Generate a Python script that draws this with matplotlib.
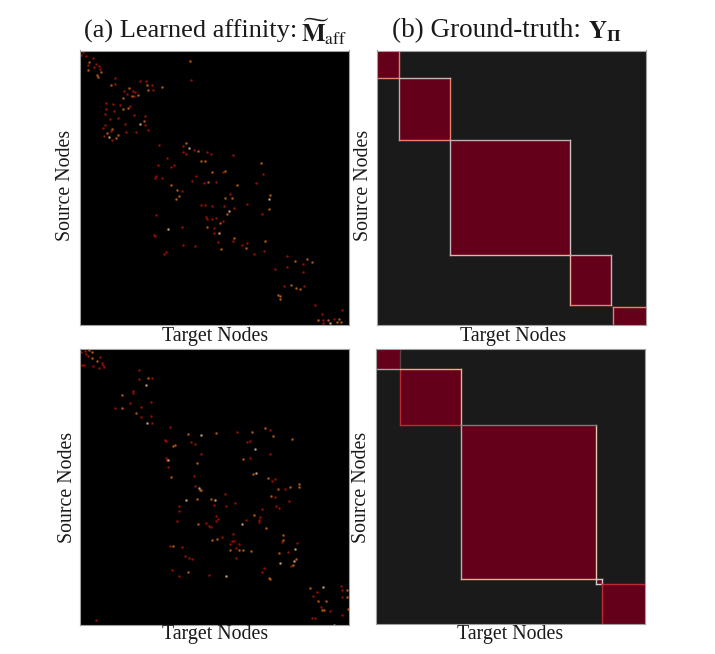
import numpy as np
import matplotlib
matplotlib.use('Agg')
import matplotlib.pyplot as plt
from matplotlib.patches import Rectangle

plt.rcParams['font.family'] = ['Liberation Serif', 'DejaVu Serif']
plt.rcParams['mathtext.fontset'] = 'stix'

# affinity peaks: (target, source, level)  level 0 red, 1 orange, 2 pale
top_upper = [(33,137,0),(40,128,0),(47,140,0),(68,144,0),(57,158,1),(77,162,0),(54,167,0),(72,173,0),(88,170,0),(91,177,0),
 (92,186,1),(53,182,1),(81,197,1),(85,201,1),(136,206,0),(136,222,0),(124,226,1),(209,213,0),(228,213,0),(232,226,1),
 (247,226,0),(275,231,1),(233,240,1),(248,240,0),(178,236,1),(161,243,0),(188,244,0),(195,247,0),(170,252,0),(205,255,1),
 (185,260,1),(192,260,0),(158,265,1),(108,279,0),(130,282,0),(151,286,0),(181,290,0),(173,294,1),(159,297,1),(108,298,0),
 (133,303,0),(105,312,0),(192,317,0),(226,320,0),(119,327,0),(143,324,0),(222,333,1),(209,342,2),(164,342,0),(226,347,0),
 (104,347,0),(99,355,0),(127,358,1),(124,363,0),(233,362,0),(167,367,0),(198,367,0),(112,371,1),(143,376,1),(102,380,0),
 (116,381,2),(138,385,1),(127,390,0),(267,405,0),(347,401,1),(340,409,0),(356,414,2),(371,420,0),(384,424,1),(411,428,0),
 (423,433,0),(338,428,0),(349,433,0),(490,436,0),(291,444,0),(392,453,1),(406,453,1),(264,467,0),(303,471,0),(312,467,0),
 (575,460,1),(426,487,1),(466,483,1),(460,487,0),(581,492,0),(360,153,1),(364,210,0)]
top_lower = [(258,20,0),(254,25,0),(275,25,0),(377,20,0),(367,33,0),(402,41,0),(415,37,1),(438,37,0),(302,46,1),(500,46,1),
 (559,41,0),(322,60,1),(337,64,0),(326,79,1),(318,89,1),(602,75,1),(481,72,0),(466,85,1),(485,85,1),(597,89,2),
 (392,106,0),(405,106,0),(426,110,0),(461,110,0),(491,114,0),(532,102,0),(598,118,1),(477,123,2),(472,134,1),(578,132,0),
 (257,137,0),(408,142,0),(410,149,0),(426,148,0),(439,144,0),(458,153,0),(450,161,1),(411,171,1),(337,171,0),(433,175,0),
 (295,177,2),(433,189,0),(446,189,2),(251,196,0),(256,201,0),(491,205,1),(488,215,0),(587,215,1),(443,218,0),(340,226,0),
 (374,230,0),(517,226,0),(532,222,0),(528,235,1),(454,239,1),(584,244,0),(552,253,0),(287,249,0),(282,253,0),(652,260,0),
 (676,275,1),(711,268,1),(726,278,1),(701,283,0),(653,292,0),(615,298,0),(701,308,0),(643,351,0),(663,346,1),(680,355,1),
 (691,360,1),(704,351,0),(625,376,1),(632,380,1),(632,389,1),(735,408,0),(818,423,0),(756,433,0),(746,452,1),(760,452,0),
 (776,452,1),(794,449,0),(807,449,1),(801,457,1),(815,457,1),(760,462,0),(780,462,2)]
bottom_upper = [(33,36,0),(45,32,0),(57,30,1),(65,36,1),(48,42,0),(53,47,0),(90,52,0),(66,55,1),(81,63,1),(95,70,0),
 (98,74,0),(35,76,0),(41,76,0),(69,78,0),(87,85,0),(101,82,0),(208,89,0),(208,116,0),(233,113,1),(247,113,0),
 (228,135,2),(189,153,0),(189,158,0),(155,165,1),(179,189,0),(243,186,0),(136,205,0),(155,205,1),(214,202,0),(197,219,1),
 (214,232,0),(244,229,0),(232,248,2),(247,248,0),(299,260,0),(353,282,1),(392,285,2),(438,278,1),(501,275,0),(547,275,1),
 (586,263,1),(602,269,0),(609,289,1),(668,296,1),(286,300,0),(289,302,0),(530,306,0),(540,302,0),(364,306,0),(374,312,0),
 (310,318,1),(314,315,1),(555,326,2),(602,340,0),(392,342,0),(289,352,0),(291,358,0),(295,359,2),(520,355,1),(540,352,0),
 (381,369,1),(293,380,0),(548,402,1),(558,398,2),(303,410,1),(371,407,0),(594,413,1),(615,416,0),(608,422,0),(687,432,1),
 (687,439,1),(660,439,1),(647,446,0),(625,447,1),(374,436,0),(388,443,2),(392,448,1)]
bottom_lower = [(391,0,1),(465,12,0),(605,18,1),(615,21,0),(349,30,2),(380,26,1),(422,26,1),(435,30,2),(657,33,0),(328,46,0),
 (431,43,0),(469,46,0),(494,37,0),(620,48,0),(629,52,0),(578,55,0),(326,62,0),(551,73,1),(438,76,0),(570,80,0),
 (322,92,0),(445,86,0),(438,92,0),(527,89,0),(566,89,0),(566,95,0),(384,102,1),(407,99,0),(416,106,0),(423,110,0),
 (516,102,2),(590,114,1),(488,132,0),(640,135,1),(455,139,0),(442,146,1),(427,150,1),(640,150,1),(636,156,0),(683,159,0),
 (485,153,0),(491,153,0),(481,162,0),(508,162,0),(299,166,0),(310,166,1),(335,169,0),(498,172,0),(481,179,1),(508,179,1),
 (520,179,1),(544,183,1),(675,176,2),(629,189,1),(655,186,0),(345,196,0),(356,202,0),(367,205,0),(498,202,0),(678,205,1),
 (673,212,2),(632,219,2),(671,223,1),(664,226,0),(583,233,0),(576,246,0),(306,239,0),(353,246,1),(328,256,0),(416,253,0),
 (469,256,2),(598,264,1),(601,266,1),(722,293,1),(761,289,2),(814,286,0),(817,300,0),(831,300,1),(741,306,0),(729,316,0),
 (817,319,0),(832,319,1),(746,333,1),(768,331,1),(753,350,0),(757,359,1),(764,359,1),(781,362,0),(836,355,1),(817,373,0),
 (726,383,0),(736,383,0),(77,389,0),(792,403,2)]

# ground truth blocks, node ranges on target and source axes
gt_top_x = [(65,133),(133,285),(285,645),(645,767),(773,873)]
gt_top_y = [(122,204),(204,390),(390,735),(735,885),(890,945)]
gt_top_edges = [('#65001a','#e8806a','#e8806a','#65001a'),('#b8b0b0','#e8806a','#e8806a','#c0b8b8'),
 ('#c0b8b8','#e8b0a0','#c8c0c0','#b8b0b0'),('#e8b0a0','#e8806a','#c0b8b8','#b8b0b0'),('#e8806a','#65001a','#65001a','#e8806a')]
gt_bot_x = [(62,136),(136,317),(317,724),(724,742),(742,870)]
gt_bot_y = [(27,86),(86,256),(256,716),(716,733),(733,852)]
gt_bot_edges = [('#65001a','#a8a0a0','#5a4040','#65001a'),('#c02838','#c02838','#e8b090','#e8b090'),
 ('#b8b0b0','#e8b090','#e8c8b0','#807878'),('#d0c8c8','#d0c8c8','#d0c8c8','#d0c8c8'),('#c02838','#65001a','#65001a','#c02838')]

level_colors = ['#981006', '#b05a14', '#c09c80']
W, H = 715, 654

fig = plt.figure(figsize=(W/100, H/100), dpi=100)


def panel(l, t, r, b):
    ax = fig.add_axes([l/W, 1-b/H, (r-l)/W, (b-t)/H])
    ax.set_xticks([])
    ax.set_yticks([])
    for s in ax.spines.values():
        s.set_color('#a0a0a0')
        s.set_linewidth(0.8)
    return ax


def affinity(ax, upper, lower, lower_shift, ytop):
    pts = np.array(upper + [(x, y+lower_shift, c) for x, y, c in lower])
    ax.set_facecolor('black')
    for lev, col in enumerate(level_colors):
        m = pts[:, 2] == lev
        # soft halo first, the reference dots are blurred
        ax.scatter(pts[m, 0], pts[m, 1], s=6, marker='o', color=col, alpha=0.25, linewidths=0)
        ax.scatter(pts[m, 0], pts[m, 1], s=2.2, marker='o', color=col, linewidths=0)
    ax.set_xlim(28, 838)
    ax.set_ylim(ytop+825, ytop)


def blocks(ax, xs, ys, edges):
    ax.set_facecolor('#1a1a1a')
    for (x0, x1), (y0, y1), (left, bottom, right, top) in zip(xs, ys, edges):
        ax.add_patch(Rectangle((x0, y0), x1-x0, y1-y0, color='#65001a', lw=0))
        ax.plot([x0, x0], [y0, y1], color=left, lw=1.0)
        ax.plot([x0, x1], [y1, y1], color=bottom, lw=1.0)
        ax.plot([x1, x1], [y0, y1], color=right, lw=1.0)
        ax.plot([x0, x1], [y0, y0], color=top, lw=1.0)
    ax.set_xlim(xs[0][0], xs[-1][1])
    ax.set_ylim(ys[-1][1], ys[0][0])


ax = panel(79.5, 50.5, 349, 325)
affinity(ax, top_upper, top_lower, 480, 122)
ax = panel(79.5, 349, 349, 624.5)
affinity(ax, bottom_upper, bottom_lower, 450, 27)
ax = panel(376.5, 50.5, 646, 325)
blocks(ax, gt_top_x, gt_top_y, gt_top_edges)
ax = panel(375.5, 349, 645, 624)
blocks(ax, gt_bot_x, gt_bot_y, gt_bot_edges)


def label(x, y, s, size=14.3, rot=0, **kw):
    fig.text(x/W, 1-y/H, s, fontsize=size, rotation=rot, ha='center', va='center', color='#1a1a1a', **kw)


for x, y in [(215, 337), (513, 337), (215, 634), (510, 634)]:
    label(x, y, 'Target Nodes')
for x, y in [(66, 185), (364, 185), (67, 487), (362, 487)]:
    label(x, y, 'Source Nodes', rot=90)

label(191, 31, '(a) Learned affinity:', size=19)
label(486, 31, '(b) Ground-truth:', size=19.5)
label(324, 32, r'$\widetilde{\mathbf{M}}_{\mathrm{aff}}$', size=18)
label(605, 32, r'$\mathbf{Y}_{\mathbf{\Pi}}$', size=18)

fig.savefig('out.png', dpi=100)
